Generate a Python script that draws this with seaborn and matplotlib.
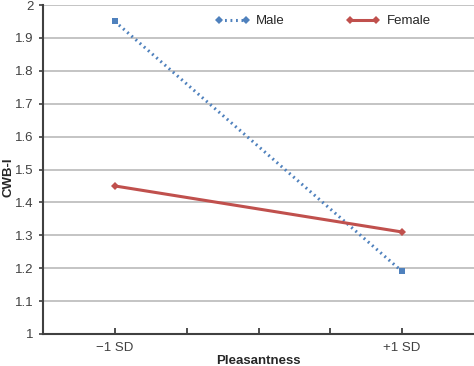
import pandas as pd
import matplotlib
matplotlib.use("Agg")
import matplotlib.pyplot as plt
import seaborn as sns
from matplotlib.lines import Line2D

# data
categories = ["\u22121 SD", "+1 SD"]
male_vals = [1.95, 1.19]
female_vals = [1.45, 1.31]
groups = ["Male", "Female"]

# layout: category slots on a 0..6 axis (ticks at 1..5, labels only at the ends)
cat_pos = [1, 5]

df = pd.DataFrame({
    "Pleasantness": cat_pos * 2,
    "CWB-I": male_vals + female_vals,
    "group": [groups[0]] * 2 + [groups[1]] * 2,
})

sns.set_theme(style="white")
plt.rcParams['font.family'] = ['Liberation Sans', 'DejaVu Sans']

fig = plt.figure(figsize=(4.74, 3.66), dpi=100)
ax = fig.add_axes([43 / 474, 1 - 334 / 366, 1 - 43 / 474, (334 - 5) / 366])

colors = {"Male": "#4F81BD", "Female": "#C0504D"}
sns.lineplot(data=df, x="Pleasantness", y="CWB-I", hue="group", style="group",
             palette=colors, dashes={"Male": (0.6, 1.2), "Female": ""},
             markers={"Male": "s", "Female": "D"}, markersize=4.5,
             markeredgewidth=0, linewidth=2.2, ax=ax, legend=False, zorder=3)

# gridlines
ax.set_ylim(1, 2)
ax.set_yticks([1 + i / 10 for i in range(11)])
ax.set_yticklabels(["1", "1.1", "1.2", "1.3", "1.4", "1.5", "1.6", "1.7", "1.8", "1.9", "2"])
ax.yaxis.grid(True, color="#BFBFBF", linewidth=1.3)
ax.xaxis.grid(False)
ax.set_axisbelow(True)

ax.set_xlim(0, 6)
ax.set_xticks([1, 2, 3, 4, 5])
ax.set_xticklabels([categories[0], "", "", "", categories[1]])

for s in ["top", "right"]:
    ax.spines[s].set_visible(False)
for s in ["left", "bottom"]:
    ax.spines[s].set_color("#404040")
    ax.spines[s].set_linewidth(1.5)

ax.tick_params(axis="y", direction="out", length=3, width=1.2, color="#404040",
               labelsize=9.5, labelcolor="#404040", left=True, pad=4)
ax.tick_params(axis="x", direction="in", length=4, width=1.2, color="#303030",
               labelsize=9.5, labelcolor="#404040", bottom=True, pad=6)

ax.set_ylabel("CWB-I", fontweight="bold", fontsize=9.5)
ax.yaxis.set_label_coords(-0.081, 0.475)
ax.set_xlabel("Pleasantness", fontweight="bold", fontsize=9.5)
ax.xaxis.set_label_coords(0.5, -0.081)
ax.xaxis.label.set_va("center")
ax.yaxis.label.set_va("center")

# legend (handles with markers at both ends like the Excel legend)
handles = [
    Line2D([0], [0], color=colors["Male"], linestyle=(0, (0.6, 1.2)), linewidth=2.2,
           marker="D", markersize=4, markeredgewidth=0),
    Line2D([0], [0], color=colors["Female"], linewidth=2.2,
           marker="D", markersize=4, markeredgewidth=0),
]
ax.legend(handles, groups, loc="upper center", bbox_to_anchor=(0.65, 1.005), ncol=2,
          numpoints=2, frameon=False, fontsize=9.5, handlelength=2.6,
          columnspacing=4.6, handletextpad=0.5)

fig.savefig("out.png", dpi=100)
